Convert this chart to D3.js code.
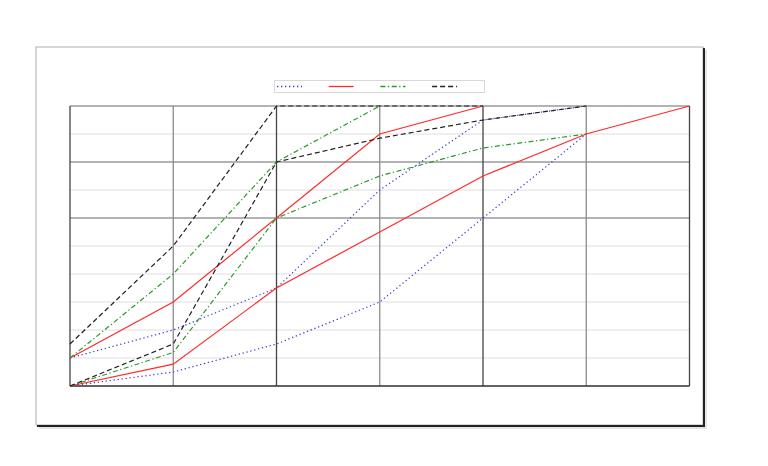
<!DOCTYPE html>
<html>
<head>
<meta charset="utf-8">
<script src="https://cdn.jsdelivr.net/npm/d3@7"></script>
<style>
  html, body { margin: 0; padding: 0; background: #fff; }
  svg { display: block; }
</style>
</head>
<body>
<div id="chart"></div>
<script>
// x positions 0..6, values 0..10 (nulls = no point)
const xSteps = [0, 1, 2, 3, 4, 5, 6];

const blueUpper  = [1, 2, 3.5, 7, 9.5, 10, null];
const blueLower  = [0, 0.5, 1.5, 3, 6, 9, null];
const redUpper   = [1, 3, 6, 9, 10, null, null];
const redLower   = [0, 0.78, 3.5, 5.5, 7.5, 9, 10];
const greenUpper = [1, 4, 8, 10, null, null, null];
const greenLower = [0, 1.2, 6, 7.5, 8.5, 9, null];
const blackUpper = [1.5, 5, 10, 10, 10, null, null];
const blackLower = [0, 1.5, 8, 8.85, 9.5, 10, null];

const seriesKeys = ["blue", "red", "green", "black"];
const majorY = [6, 8, 10];
const darkX = [0, 2, 4, 6];

const W = 768, H = 466;
const svg = d3.select("#chart").append("svg")
    .attr("width", W)
    .attr("height", H);

// panel with shadow
svg.append("rect")
    .attr("x", 36).attr("y", 47)
    .attr("width", 667).attr("height", 378)
    .attr("fill", "#fff")
    .attr("stroke", "#b0b0b0")
    .attr("stroke-width", 1);
svg.append("path")
    .attr("d", "M704,48 L704,426 L37,426")
    .attr("fill", "none")
    .attr("stroke", "#222")
    .attr("stroke-width", 2);
svg.append("path")
    .attr("d", "M706,50 L706,428 L39,428")
    .attr("fill", "none")
    .attr("stroke", "#ddd")
    .attr("stroke-width", 1.5);

const x = d3.scaleLinear().domain([0, 6]).range([70, 689.5]);
const y = d3.scaleLinear().domain([0, 10]).range([386, 106]);

// horizontal grid
svg.append("g").selectAll("line")
    .data(y.ticks(10))
    .enter().append("line")
    .attr("x1", x(0)).attr("x2", x(6))
    .attr("y1", d => y(d)).attr("y2", d => y(d))
    .attr("stroke", d => majorY.includes(d) ? "#9a9a9a" : "#dedede")
    .attr("stroke-width", d => majorY.includes(d) ? 1.3 : 1);

// vertical grid
svg.append("g").selectAll("line")
    .data(xSteps)
    .enter().append("line")
    .attr("x1", d => x(d)).attr("x2", d => x(d))
    .attr("y1", y(0)).attr("y2", y(10))
    .attr("stroke", d => darkX.includes(d) ? "#444" : "#8c8c8c")
    .attr("stroke-width", 1.3);

// bottom axis line
svg.append("line")
    .attr("x1", x(0)).attr("x2", x(6))
    .attr("y1", y(0)).attr("y2", y(0))
    .attr("stroke", "#333")
    .attr("stroke-width", 1.4);

const styles = {
    blue:  { color: "#3c3cc8", dash: "1.3,2.7" },
    red:   { color: "#ff2a2a", dash: null },
    green: { color: "#2a9a2a", dash: "5,2.5,1.3,2.5" },
    black: { color: "#222", dash: "5,3" }
};

const lines = [
    { key: "blue", values: blueUpper },
    { key: "blue", values: blueLower },
    { key: "red", values: redUpper },
    { key: "red", values: redLower },
    { key: "green", values: greenUpper },
    { key: "green", values: greenLower },
    { key: "black", values: blackUpper },
    { key: "black", values: blackLower }
];

const line = d3.line()
    .defined(d => d != null)
    .x((d, i) => x(xSteps[i]))
    .y(d => y(d));

svg.append("g").selectAll("path")
    .data(lines)
    .enter().append("path")
    .attr("d", d => line(d.values))
    .attr("fill", "none")
    .attr("stroke", d => styles[d.key].color)
    .attr("stroke-width", 1.2)
    .attr("stroke-dasharray", d => styles[d.key].dash);

// legend (symbols only)
const legend = svg.append("g");
legend.append("rect")
    .attr("x", 274.5).attr("y", 80.5)
    .attr("width", 210).attr("height", 12)
    .attr("fill", "#fff")
    .attr("stroke", "#d8d8d8");
legend.selectAll("line")
    .data(seriesKeys)
    .enter().append("line")
    .attr("x1", (d, i) => 277 + i * 51.7)
    .attr("x2", (d, i) => 302 + i * 51.7)
    .attr("y1", 86.5).attr("y2", 86.5)
    .attr("stroke", d => styles[d].color)
    .attr("stroke-width", 1.3)
    .attr("stroke-dasharray", d => styles[d].dash);
</script>
</body>
</html>
